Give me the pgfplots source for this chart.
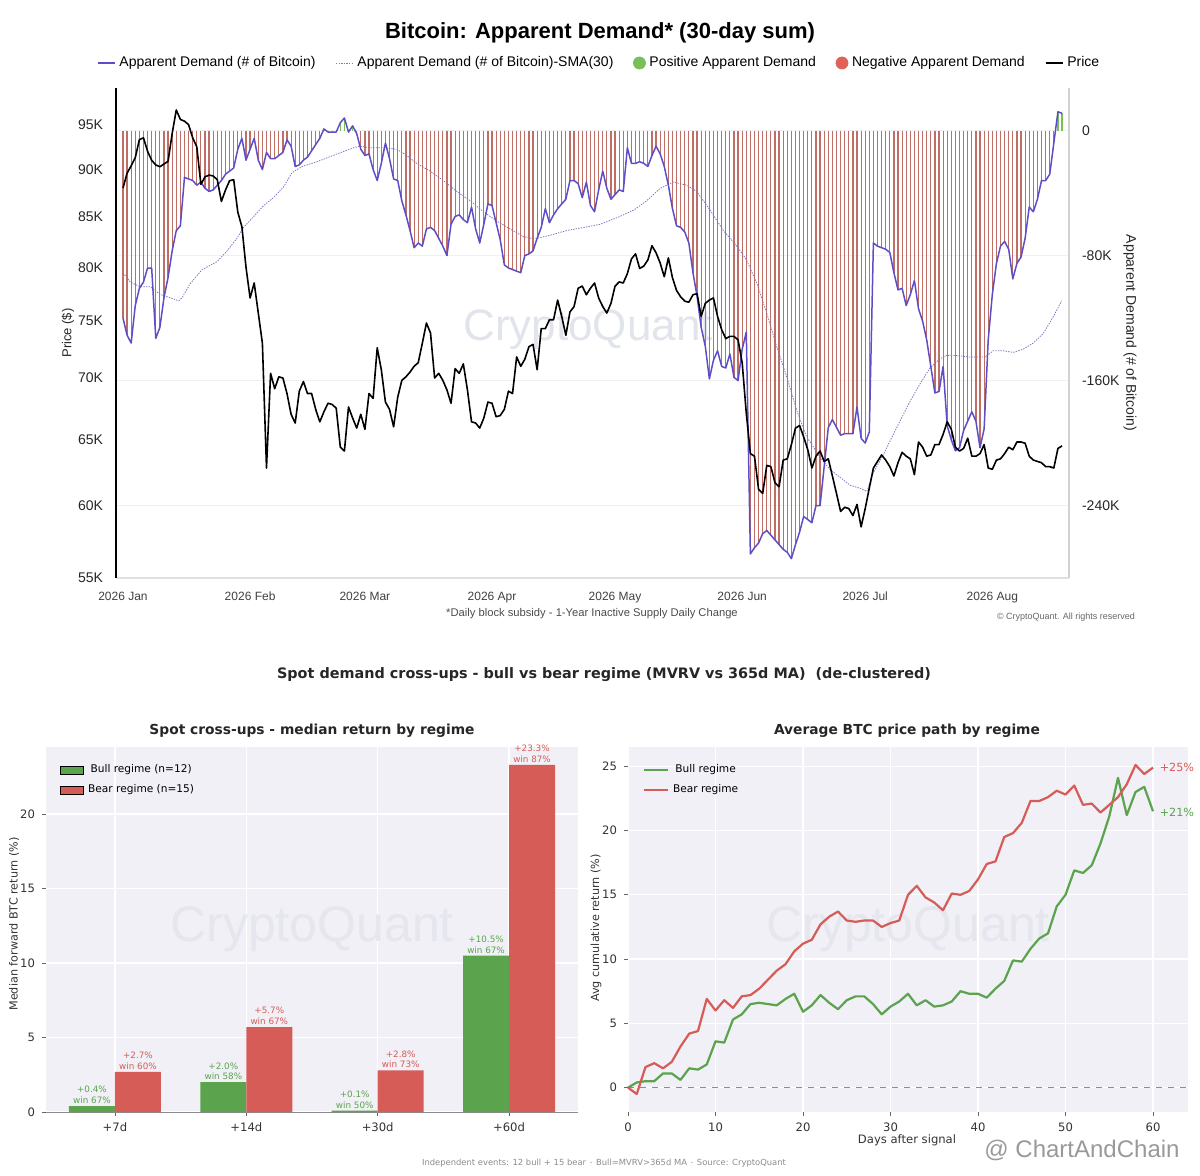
\documentclass[border=0pt]{standalone}
\usepackage{pgfplots}
\pgfplotsset{compat=1.18}
\usepackage{pgfplotstable}
\usepackage{fontspec}
\setmainfont{Liberation Sans}
\newfontfamily\dvs{DejaVu Sans}

\definecolor{demand}{RGB}{92,78,200}
\definecolor{sma}{RGB}{120,120,195}
\definecolor{negbar}{RGB}{190,110,100}
\definecolor{negdot}{RGB}{222,98,90}
\definecolor{posbar}{RGB}{120,190,90}
\definecolor{bullg}{RGB}{92,163,78}
\definecolor{bearr}{RGB}{214,92,88}
\definecolor{panelbg}{RGB}{240,240,246}
\definecolor{wm}{RGB}{226,228,236}
\definecolor{wmb}{RGB}{229,230,238}

\pgfplotsset{
  rectlegend/.style={legend image code/.code={\fill[##1] (0pt,-2pt) rectangle (11.5pt,2pt);}},
  shortline/.style={legend image code/.code={\draw[##1] (0pt,0pt) -- (8.5pt,0pt);}},
  medline/.style={legend image code/.code={\draw[##1] (0pt,0pt) -- (12pt,0pt);}},
}

\pgfplotstableread{
day dem
0 -120
1 -131
2 -136
3 -112
4 -101
5 -97
6 -88
7 -88
8 -133
9 -126
10 -107
11 -94
12 -77
13 -64
14 -61
15 -30
16 -31
17 -32
18 -35
19 -33
20 -37
21 -39
22 -38
23 -35
24 -32
25 -28
26 -26
27 -24
28 -12
29 -5
30 -19
31 -12
32 -5
33 -19
34 -25
35 -14
36 -18
37 -18
38 -16
39 -14
40 -6
41 -10
42 -23
43 -22
44 -19
45 -17
46 -13
47 -9
48 -5
49 1
50 -1
51 -1
52 -1
53 5
54 8
55 -1
56 3
57 -2
58 -12
59 -16
60 -15
61 -25
62 -32
63 -21
64 -8
65 -18
66 -31
67 -32
68 -45
69 -54
70 -64
71 -75
72 -72
73 -74
74 -63
75 -62
76 -64
77 -69
78 -74
79 -80
80 -60
81 -55
82 -54
83 -57
84 -59
85 -49
86 -63
87 -72
88 -60
89 -47
90 -48
91 -59
92 -70
93 -86
94 -88
95 -89
96 -90
97 -91
98 -80
99 -79
100 -77
101 -69
102 -62
103 -50
104 -59
105 -54
106 -50
107 -47
108 -44
109 -32
110 -32
111 -34
112 -43
113 -33
114 -48
115 -52
116 -38
117 -26
118 -37
119 -44
120 -41
121 -38
122 -39
123 -11
124 -21
125 -21
126 -20
127 -21
128 -23
129 -16
130 -10
131 -15
132 -23
133 -35
134 -50
135 -61
136 -62
137 -65
138 -72
139 -91
140 -106
141 -126
142 -138
143 -159
144 -147
145 -141
146 -151
147 -152
148 -143
149 -158
150 -160
151 -140
152 -129
153 -271
154 -267
155 -264
156 -258
157 -256
158 -259
159 -262
160 -265
161 -268
162 -270
163 -274
164 -265
165 -257
166 -247
167 -249
168 -251
169 -240
170 -240
171 -215
172 -190
173 -185
174 -190
175 -195
176 -194
177 -194
178 -194
179 -177
180 -197
181 -200
182 -193
183 -72
184 -74
185 -75
186 -76
187 -78
188 -91
189 -102
190 -101
191 -112
192 -105
193 -96
194 -114
195 -122
196 -134
197 -151
198 -168
199 -167
200 -151
201 -189
202 -198
203 -205
204 -203
205 -192
206 -186
207 -180
208 -186
209 -203
210 -191
211 -134
212 -105
213 -85
214 -74
215 -71
216 -76
217 -95
218 -85
219 -81
220 -69
221 -49
222 -52
223 -44
224 -32
225 -32
226 -28
227 -8
228 12
229 11
}\tblDem

\pgfplotstableread{
day price
0 88.0
1 89.6
2 90.4
3 91.3
4 93.3
5 93.5
6 92.0
7 91.0
8 90.5
9 90.3
10 90.6
11 90.9
12 94.0
13 96.7
14 95.6
15 95.4
16 95.0
17 93.5
18 92.5
19 88.4
20 89.2
21 89.4
22 89.3
23 88.9
24 86.6
25 87.8
26 88.8
27 88.9
28 85.5
29 84.0
30 80.0
31 77.1
32 78.5
33 75.7
34 73.0
35 62.8
36 70.4
37 69.1
38 70.1
39 70.0
40 68.7
41 67.0
42 66.3
43 68.9
44 69.7
45 68.7
46 68.7
47 67.4
48 66.4
49 67.2
50 67.9
51 67.8
52 67.5
53 64.4
54 64.1
55 67.6
56 66.7
57 65.9
58 67.0
59 65.8
60 68.7
61 68.3
62 72.6
63 70.7
64 68.0
65 67.4
66 66.0
67 68.4
68 69.8
69 70.1
70 70.5
71 71.0
72 71.3
73 73.0
74 74.8
75 73.9
76 70.0
77 70.4
78 69.8
79 69.0
80 67.9
81 70.8
82 70.4
83 71.2
84 69.0
85 66.4
86 66.3
87 65.9
88 66.7
89 68.0
90 67.9
91 66.8
92 66.9
93 67.4
94 68.9
95 68.7
96 71.8
97 71.0
98 71.6
99 72.7
100 72.9
101 70.7
102 74.3
103 74.3
104 75.1
105 75.1
106 76.9
107 75.4
108 73.7
109 75.8
110 76.3
111 78.0
112 78.2
113 77.4
114 78.0
115 78.5
116 77.1
117 76.3
118 75.7
119 76.6
120 78.2
121 78.6
122 78.5
123 79.4
124 80.8
125 81.3
126 79.9
127 80.1
128 80.7
129 82.1
130 81.4
131 80.4
132 79.1
133 80.9
134 79.0
135 77.8
136 77.2
137 76.8
138 76.7
139 77.4
140 77.5
141 75.4
142 76.6
143 76.9
144 77.1
145 75.4
146 74.2
147 73.4
148 73.6
149 73.6
150 73.3
151 71.3
152 67.1
153 63.9
154 63.7
155 61.2
156 60.9
157 63.0
158 62.9
159 61.7
160 61.4
161 63.4
162 63.5
163 64.6
164 65.9
165 66.1
166 65.2
167 64.2
168 62.8
169 63.7
170 64.1
171 63.3
172 63.5
173 62.2
174 60.9
175 59.6
176 59.9
177 59.8
178 59.3
179 60.1
180 58.5
181 59.8
182 61.3
183 62.8
184 63.3
185 63.8
186 63.4
187 62.9
188 62.2
189 63.2
190 64.0
191 63.7
192 63.5
193 62.3
194 64.8
195 64.4
196 63.7
197 63.8
198 64.6
199 64.6
200 65.4
201 66.4
202 65.8
203 64.4
204 64.1
205 64.3
206 65.1
207 63.7
208 63.7
209 63.9
210 64.6
211 62.8
212 62.7
213 63.4
214 63.5
215 63.9
216 64.4
217 64.2
218 64.8
219 64.8
220 64.7
221 63.7
222 63.4
223 63.3
224 63.2
225 62.9
226 62.9
227 62.8
228 64.3
229 64.5
}\tblPrice

\pgfplotstableread{
day sma
0 -91
1.8 -97
4.2 -100
6.7 -100
9.1 -105
11.5 -107
13.6 -109
14.4 -107
16.4 -98
19.3 -89
22.9 -84
25.4 -77
27.8 -69
29.4 -62
31.9 -55
34.3 -48
36.7 -43
39.2 -36
41.2 -27
43.7 -23
47.3 -20
52.2 -15
56.3 -11
57.8 -10
60.2 -11
63.5 -11
66.8 -12
69.2 -16
71.6 -21
74.9 -26
78.1 -32
81.4 -39
84.7 -45
87.9 -52
91.2 -58
94.4 -63
97.7 -68
99.7 -69
100.9 -69
104.2 -67
108.3 -64
112.4 -62
116.4 -60
121.2 -55
124.5 -51
127.7 -45
131.0 -37
134.2 -33
137.5 -35
139.9 -39
143.2 -51
146.4 -64
149.7 -74
152.1 -83
154.6 -98
157.0 -117
159.4 -138
161.9 -158
164.3 -179
166.7 -196
170.0 -209
172.4 -217
174.9 -222
177.3 -227
179.8 -229
181.4 -231
183.0 -219
185.5 -207
188.7 -190
192.0 -173
194.4 -162
196.8 -152
199.3 -146
200.9 -144
203.3 -144
206.6 -145
210.2 -145
212.2 -141
214.7 -141
217.1 -142
219.5 -140
222.0 -136
224.4 -130
226.9 -119
228.9 -109
}\tblSma

\begin{document}
\begin{tikzpicture}
\path[use as bounding box] (0pt,0pt) rectangle (600pt,-587.5pt);

% ---------- absolute texts ----------
\begin{scope}[x=0.5pt,y=-0.5pt]
\node[text=wm, font=\fontsize{22}{22}\selectfont] at (588,330) {CryptoQuant};
\node[font=\bfseries\fontsize{11}{13}\selectfont] at (600,33) {Bitcoin: Apparent Demand* (30-day sum)};
\node[rotate=90, font=\fontsize{6.5}{8}\selectfont, text=black!85] at (68,333) {Price (\$)};
\node[rotate=-90, font=\fontsize{7}{8}\selectfont, text=black!85] at (1130,333) {Apparent Demand (\# of Bitcoin)};
\node[font=\fontsize{5.6}{7}\selectfont, text=black!70] at (592,614) {*Daily block subsidy - 1-Year Inactive Supply Daily Change};
\node[font=\fontsize{4.5}{5}\selectfont, text=black!60] at (1066,617) {\textcopyright\ CryptoQuant. All rights reserved};

\node[font=\dvs\bfseries\fontsize{7.2}{8}\selectfont, text=black!85] at (604,675) {Spot demand cross-ups - bull vs bear regime (MVRV vs 365d MA)\ \ (de-clustered)};
\node[font=\dvs\bfseries\fontsize{6.9}{8}\selectfont, text=black!85] at (312,731) {Spot cross-ups - median return by regime};
\node[font=\dvs\bfseries\fontsize{6.9}{8}\selectfont, text=black!85] at (907,731) {Average BTC price path by regime};
\node[rotate=90, font=\dvs\fontsize{5.6}{7}\selectfont, text=black!80] at (14,924) {Median forward BTC return (\%)};
\node[rotate=90, font=\dvs\fontsize{5.6}{7}\selectfont, text=black!80] at (596,928) {Avg cumulative return (\%)};
\node[font=\dvs\fontsize{5.8}{7}\selectfont, text=black!80] at (907,1140) {Days after signal};
\node[font=\dvs\fontsize{4.2}{5}\selectfont, text=black!45] at (604,1163) {Independent events: 12 bull + 15 bear $\cdot$ Bull=MVRV>365d MA $\cdot$ Source: CryptoQuant};
\node[font=\fontsize{12}{13}\selectfont, text=black!40] at (1082,1150) {@ ChartAndChain};
\end{scope}

% ---------- top chart: demand (right axis) ----------
\begin{axis}[
  at={(58pt,-289pt)}, anchor=south west, scale only axis,
  width=476.5pt, height=245pt,
  xmin=-1.7, xmax=230.7, ymin=-286.4, ymax=27.2,
  axis x line=none, axis y line*=right,
  y axis line style={-, draw=black!18, line width=0.6pt},
  ytick={0,-80,-160,-240}, yticklabels={0,-80K,-160K,-240K},
  yticklabel style={font=\fontsize{7}{8}\selectfont, text=black!85, anchor=west, xshift=3pt},
  major tick length=0pt,
  ymajorgrids, grid style={black!6, line width=0.4pt},
]
\addplot[ycomb, negbar, line width=0.6pt, restrict y to domain=-400:0] table[x=day,y=dem]{\tblDem};
\addplot[ycomb, posbar, line width=0.6pt, restrict y to domain=0:100] table[x=day,y=dem]{\tblDem};
\addplot[sma, line width=0.4pt, dash pattern=on 0.7pt off 0.6pt] table[x=day,y=sma]{\tblSma};
\addplot[demand, line width=0.75pt, line join=round] table[x=day,y=dem]{\tblDem};
\end{axis}

% ---------- top chart: price (left axis, log) ----------
\begin{axis}[
  at={(58pt,-289pt)}, anchor=south west, scale only axis,
  width=476.5pt, height=245pt,
  xmin=-1.7, xmax=230.7, ymode=log, ymin=55, ymax=99.3,
  axis x line*=bottom, axis y line*=left,
  x axis line style={-, draw=black!12, line width=0.6pt},
  y axis line style={-, draw=black, line width=0.8pt},
  ytick={55,60,65,70,75,80,85,90,95},
  yticklabels={55K,60K,65K,70K,75K,80K,85K,90K,95K},
  yticklabel style={font=\fontsize{7}{8}\selectfont, text=black!85, xshift=-3pt},
  xtick={0,31,59,90,120,151,181,212},
  xticklabels={2026 Jan,2026 Feb,2026 Mar,2026 Apr,2026 May,2026 Jun,2026 Jul,2026 Aug},
  xticklabel style={font=\fontsize{6}{7}\selectfont, text=black!75, yshift=-3.5pt},
  major tick length=0pt,
  legend style={at={(0.508,1.051)}, anchor=center, draw=none, fill=none,
    legend columns=5, font=\fontsize{7}{8}\selectfont,
    /tikz/every even column/.append style={column sep=8pt}},
]
\addlegendimage{shortline, demand, line width=0.75pt}
\addlegendentry{Apparent Demand (\# of Bitcoin)}
\addlegendimage{shortline, sma, line width=0.45pt, dash pattern=on 0.7pt off 0.6pt}
\addlegendentry{Apparent Demand (\# of Bitcoin)-SMA(30)}
\addlegendimage{only marks, mark=*, mark size=3pt, mark options={draw=posbar, fill=posbar}}
\addlegendentry{Positive Apparent Demand}
\addlegendimage{only marks, mark=*, mark size=3pt, mark options={draw=negdot, fill=negdot}}
\addlegendentry{Negative Apparent Demand}
\addplot[black, line width=0.8pt, line join=round, shortline] table[x=day,y=price]{\tblPrice};
\addlegendentry{Price}
\end{axis}

% ---------- bottom left: bar chart ----------
\begin{axis}[
  at={(23pt,-556pt)}, anchor=south west, scale only axis,
  width=266pt, height=182.5pt,
  xmin=-0.525, xmax=3.525, ymin=0, ymax=24.5,
  axis background/.style={fill=panelbg},
  axis x line*=bottom, axis y line*=left,
  x axis line style={-, draw=black!45, line width=0.5pt},
  y axis line style={-, draw=none},
  xtick={0,1,2,3}, xticklabels={+7d,+14d,+30d,+60d},
  ytick={0,5,10,15,20},
  /pgf/number format/assume math mode=true,
  tick label style={font=\dvs\fontsize{5.8}{6.5}\selectfont, text=black!80},
  tick align=outside, tick pos=left, major tick length=2pt,
  tick style={black!60, line width=0.4pt},
  ymajorgrids, xmajorgrids, grid style={white, line width=0.6pt},
  clip=false,
  legend style={at={(0.015,0.975)}, anchor=north west, draw=none, fill=none,
    font=\dvs\fontsize{5.3}{6.5}\selectfont, row sep=0.5pt},
]
\node[text=wmb, font=\fontsize{25}{25}\selectfont] at (rel axis cs:0.5,0.5) {CryptoQuant};
\addlegendimage{rectlegend, fill=bullg}
\addlegendentry{Bull regime (n=12)}
\addlegendimage{rectlegend, fill=bearr}
\addlegendentry{Bear regime (n=15)}
\addplot[ybar, bar width=0.35, bar shift=-0.175, fill=bullg, draw=none, forget plot]
  coordinates {(0,0.4) (1,2.0) (2,0.1) (3,10.5)};
\addplot[ybar, bar width=0.35, bar shift=0.175, fill=bearr, draw=none, forget plot]
  coordinates {(0,2.7) (1,5.7) (2,2.8) (3,23.3)};
\begin{scope}[every node/.style={font=\dvs\fontsize{4.4}{5.3}\selectfont, align=center, anchor=south, inner sep=1pt}]
\node[text=bullg] at (axis cs:-0.175,0.4) {+0.4\%\\win 67\%};
\node[text=bullg] at (axis cs:0.825,2.0) {+2.0\%\\win 58\%};
\node[text=bullg] at (axis cs:1.825,0.1) {+0.1\%\\win 50\%};
\node[text=bullg] at (axis cs:2.825,10.5) {+10.5\%\\win 67\%};
\node[text=bearr] at (axis cs:0.175,2.7) {+2.7\%\\win 60\%};
\node[text=bearr] at (axis cs:1.175,5.7) {+5.7\%\\win 67\%};
\node[text=bearr] at (axis cs:2.175,2.8) {+2.8\%\\win 73\%};
\node[text=bearr] at (axis cs:3.175,23.3) {+23.3\%\\win 87\%};
\end{scope}
\end{axis}

% ---------- bottom right: line chart ----------
\begin{axis}[
  at={(314pt,-556pt)}, anchor=south west, scale only axis,
  width=280pt, height=182.5pt,
  xmin=0, xmax=64, ymin=-1.9, ymax=26.5,
  axis background/.style={fill=panelbg},
  axis line style={draw=none},
  xtick={0,10,20,30,40,50,60}, ytick={0,5,10,15,20,25},
  /pgf/number format/assume math mode=true,
  tick label style={font=\dvs\fontsize{5.8}{6.5}\selectfont, text=black!80},
  tick align=outside, tick pos=left, major tick length=2pt,
  tick style={black!60, line width=0.4pt},
  ymajorgrids, xmajorgrids, grid style={white, line width=0.6pt},
  clip=false,
  legend style={at={(0.015,0.975)}, anchor=north west, draw=none, fill=none,
    font=\dvs\fontsize{5.3}{6.5}\selectfont, row sep=0.5pt},
]
\node[text=wmb, font=\fontsize{25}{25}\selectfont] at (rel axis cs:0.5,0.5) {CryptoQuant};
\addplot[black!45, dashed, line width=0.45pt, forget plot] coordinates {(0,0) (64,0)};
\addplot[bullg, line width=1.1pt, line join=round, medline] coordinates {
(0,0.0) (1,0.4) (2,0.5) (3,0.5) (4,1.1) (5,1.1) (6,0.6) (7,1.5) (8,1.4) (9,1.8)
(10,3.6) (11,3.5) (12,5.3) (13,5.7) (14,6.5) (15,6.6) (16,6.5) (17,6.4) (18,6.9) (19,7.3)
(20,5.9) (21,6.4) (22,7.2) (23,6.6) (24,6.1) (25,6.8) (26,7.1) (27,7.1) (28,6.5) (29,5.7)
(30,6.3) (31,6.7) (32,7.3) (33,6.4) (34,6.8) (35,6.3) (36,6.4) (37,6.7) (38,7.5) (39,7.3)
(40,7.3) (41,7.0) (42,7.7) (43,8.3) (44,9.9) (45,9.8) (46,10.8) (47,11.6) (48,12.0) (49,14.1)
(50,15.0) (51,16.9) (52,16.7) (53,17.3) (54,19.0) (55,21.1) (56,24.1) (57,21.2) (58,23.0) (59,23.4)
(60,21.5)};
\addlegendentry{Bull regime}
\addplot[bearr, line width=1.1pt, line join=round, medline] coordinates {
(0,0.0) (1,-0.5) (2,1.6) (3,1.9) (4,1.5) (5,2.0) (6,3.2) (7,4.2) (8,4.4) (9,6.9)
(10,6.0) (11,6.8) (12,6.2) (13,7.1) (14,7.2) (15,7.7) (16,8.4) (17,9.1) (18,9.6) (19,10.6)
(20,11.2) (21,11.5) (22,12.7) (23,13.3) (24,13.7) (25,13.0) (26,12.9) (27,13.0) (28,13.0) (29,12.5)
(30,12.8) (31,13.0) (32,15.0) (33,15.7) (34,14.8) (35,14.4) (36,13.8) (37,15.1) (38,15.0) (39,15.3)
(40,16.2) (41,17.4) (42,17.6) (43,19.5) (44,19.8) (45,20.6) (46,22.3) (47,22.3) (48,22.6) (49,23.1)
(50,22.8) (51,23.5) (52,22.0) (53,22.1) (54,21.4) (55,22.0) (56,22.6) (57,23.6) (58,25.1) (59,24.4)
(60,24.9)};
\addlegendentry{Bear regime}
\node[text=bearr, anchor=west, inner sep=1pt, font=\dvs\fontsize{5.6}{6.5}\selectfont] at (axis cs:60.5,24.9) {+25\%};
\node[text=bullg, anchor=west, inner sep=1pt, font=\dvs\fontsize{5.6}{6.5}\selectfont] at (axis cs:60.5,21.4) {+21\%};
\end{axis}
\end{tikzpicture}
\end{document}
